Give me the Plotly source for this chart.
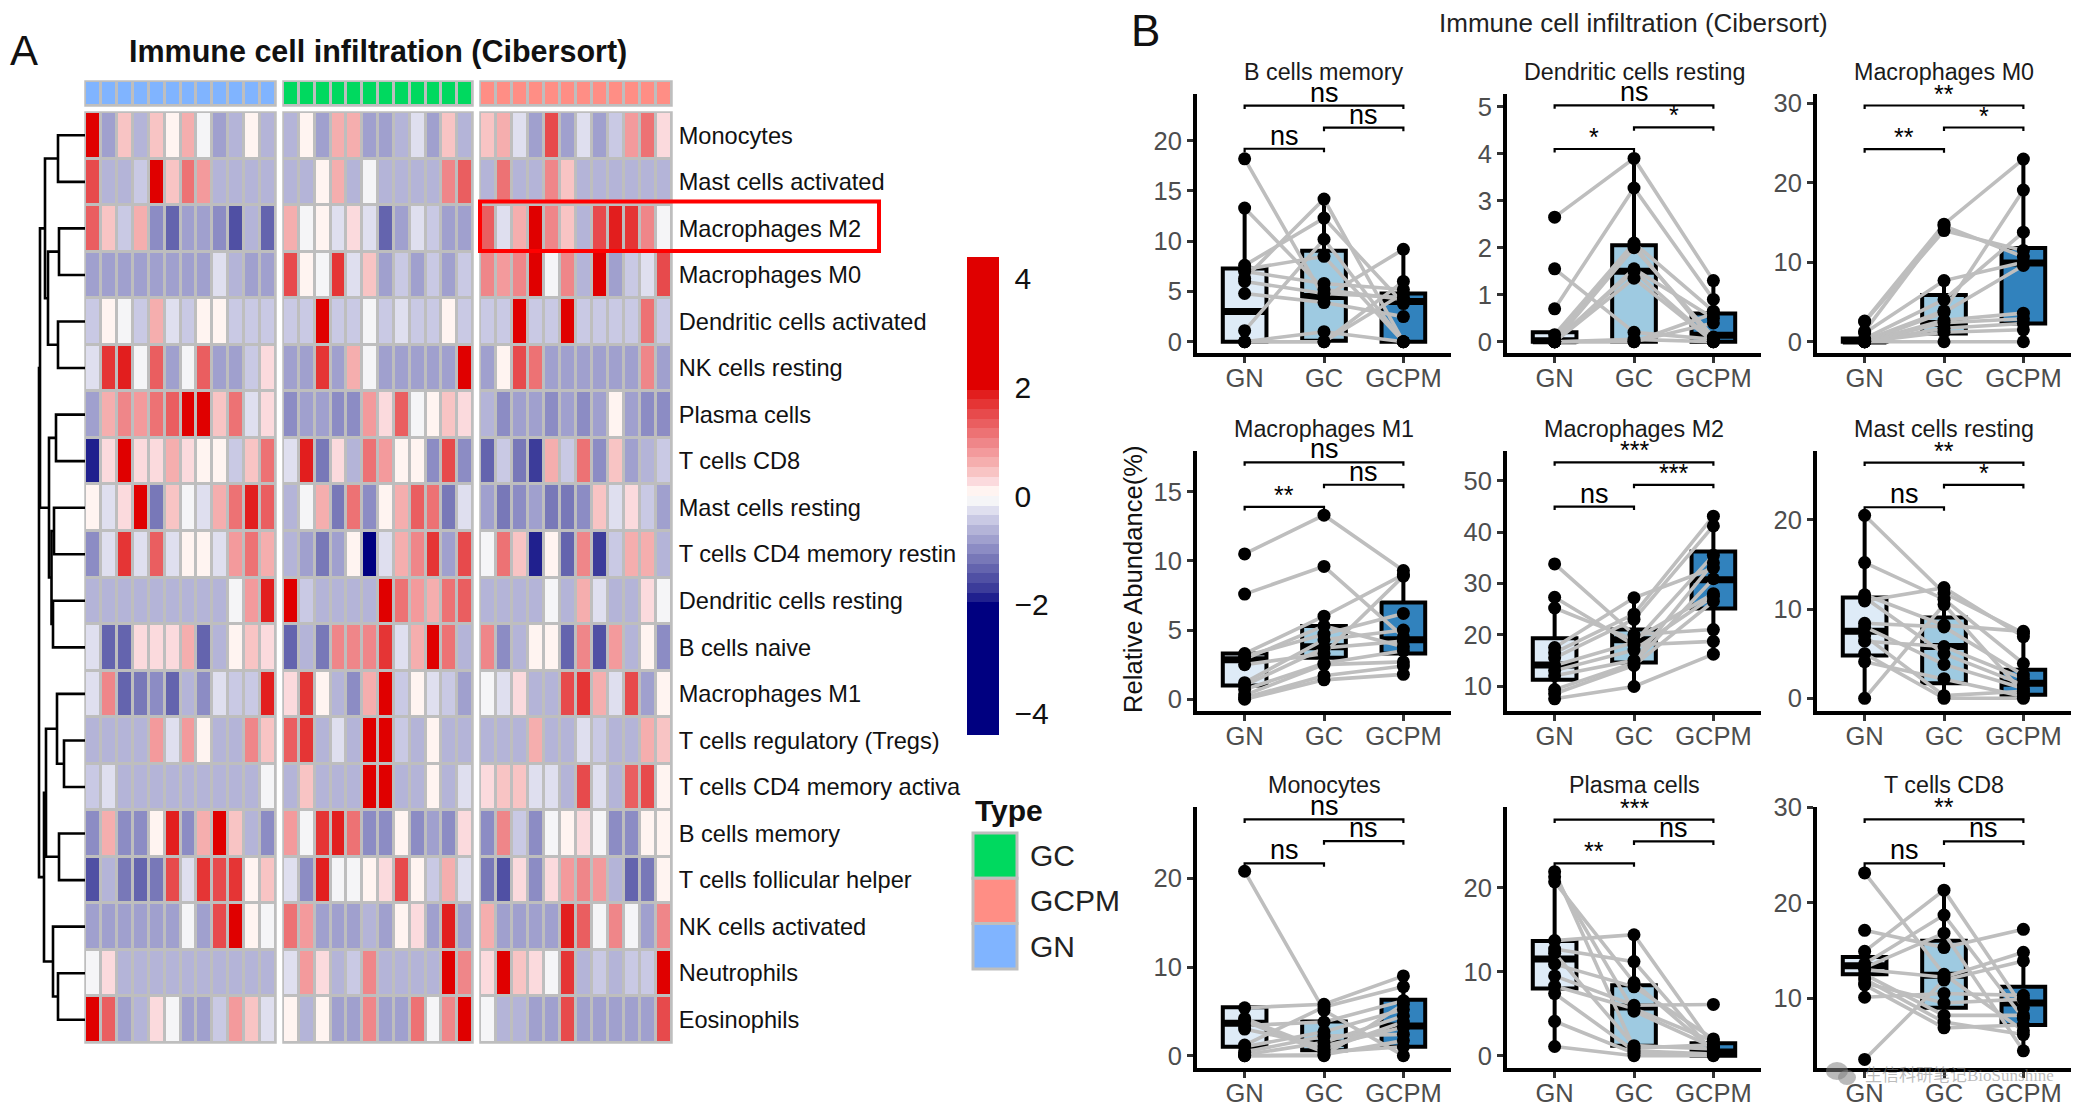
import plotly.graph_objects as go

W, H = 2074, 1109

# ---------------- heatmap data ----------------
row_labels = ["Monocytes", "Mast cells activated", "Macrophages M2", "Macrophages M0",
              "Dendritic cells activated", "NK cells resting", "Plasma cells", "T cells CD8",
              "Mast cells resting", "T cells CD4 memory restin", "Dendritic cells resting",
              "B cells naive", "Macrophages M1", "T cells regulatory (Tregs)",
              "T cells CD4 memory activa", "B cells memory", "T cells follicular helper",
              "NK cells activated", "Neutrophils", "Eosinophils"]

heat_GN = [
    [2.5,-0.65,0.4,-0.5,0.4,0.05,0.6,-0.02,-0.65,-0.5,0.05,-0.5],
    [1.5,-0.5,-0.5,-0.35,2.5,0.4,1.1,0.8,-0.5,-0.5,-0.5,-0.5],
    [1.3,0.4,-0.35,0.6,-0.8,-1.2,-0.65,-0.7,-0.85,-1.4,-0.5,-1.2],
    [-0.65,-0.7,-0.65,-0.7,-0.7,-0.7,-0.7,-0.7,-0.2,-0.5,-0.65,-0.7],
    [-0.35,0.05,-0.02,-0.35,0.6,-0.2,-0.35,0.05,0.05,-0.35,-0.35,-0.35],
    [-0.2,1.7,2.0,-0.02,1.3,-0.65,-0.02,1.3,-0.65,-0.65,-0.35,0.25],
    [-0.65,0.6,0.95,0.8,1.1,1.3,2.5,2.5,0.4,1.1,-0.2,0.25],
    [-1.8,0.25,2.5,0.25,0.25,0.6,0.25,0.05,0.05,-0.35,0.4,1.1],
    [0.05,-0.2,0.25,2.5,-1.0,0.4,-0.02,-0.2,0.6,1.1,2.0,1.3],
    [-0.8,-0.2,1.7,-0.2,1.3,-0.2,0.05,0.05,-0.2,0.8,1.1,0.6],
    [-0.5,-0.5,-0.5,-0.5,-0.5,-0.5,-0.5,-0.5,-0.5,-0.02,0.8,2.0],
    [-0.2,-1.2,-1.2,0.25,0.25,0.25,0.6,-1.2,-0.5,0.05,0.4,0.25],
    [-0.2,0.95,-1.2,-1.0,-0.85,-1.2,-0.5,-0.85,-0.2,-0.35,-0.35,2.0],
    [-0.5,-0.5,-0.5,-0.5,0.8,-0.2,0.8,0.05,-0.5,-0.5,0.95,0.4],
    [-0.35,-0.2,-0.5,-0.5,-0.5,-0.5,-0.5,-0.5,-0.5,-0.5,-0.5,-0.02],
    [-0.8,0.6,-0.8,-0.8,0.05,2.0,-0.85,0.6,2.5,0.4,-0.5,-0.85],
    [-1.4,-0.5,-1.0,-1.2,-1.0,1.5,-0.2,1.6,1.5,1.7,0.05,0.4],
    [-0.65,-0.65,-0.65,-0.65,-0.65,-0.65,-0.02,-0.65,1.5,2.5,0.05,-0.02],
    [-0.02,0.25,-0.5,-0.5,-0.5,-0.5,-0.5,-0.5,-0.5,-0.5,-0.5,-0.5],
    [2.5,1.3,-0.65,-0.5,0.25,-0.02,-0.65,-0.65,-0.35,0.8,0.4,-0.2],
]
heat_GC = [
    [-0.5,0.05,-0.65,0.6,0.6,-0.65,-0.65,-0.5,-0.2,-0.65,0.4,-0.5],
    [-0.5,-0.5,0.05,0.6,-0.5,-0.02,-0.5,-0.5,-0.5,-0.5,0.95,1.3],
    [0.6,-0.02,0.05,-0.2,0.25,-0.2,-1.2,-0.65,-0.2,-0.35,-0.65,-0.65],
    [1.5,0.05,-0.02,1.7,-0.2,0.4,-0.65,-0.35,-0.65,-0.35,-0.65,-0.35],
    [-0.35,-0.35,2.5,-0.35,-0.35,-0.02,-0.35,-0.2,-0.35,-0.35,0.05,-0.35],
    [-0.65,-0.65,1.7,-0.65,0.6,-0.02,-0.65,-0.65,-0.65,-0.65,-0.65,2.5],
    [-0.8,-0.65,-0.65,-0.8,-0.8,0.8,0.25,1.3,-0.02,0.05,0.4,0.25],
    [-0.2,2.0,-1.0,0.25,-0.5,1.1,0.8,0.05,0.05,-0.8,1.5,-0.8],
    [-0.5,-0.02,0.6,-1.0,1.1,-0.8,0.05,0.6,1.3,1.1,-1.0,-0.2],
    [-0.5,-0.65,-1.0,-0.65,0.05,-2.2,-0.2,0.6,0.95,1.7,-0.65,1.5],
    [2.5,-0.35,-0.5,-0.5,-0.5,-0.5,2.5,1.1,0.8,0.6,1.1,1.3],
    [-1.2,-0.5,-1.0,0.95,0.95,0.95,1.7,-0.2,0.6,2.5,1.1,-0.5],
    [0.25,1.7,0.05,-0.5,-0.8,0.6,2.5,-0.35,0.05,-0.2,-0.35,-0.65],
    [1.3,1.7,-0.5,-0.2,-0.5,2.5,2.5,-0.35,-0.5,0.05,-0.5,-0.5],
    [-0.5,0.4,-0.5,-0.5,-0.5,2.5,2.5,-0.5,-0.5,0.05,-0.5,-0.2],
    [0.8,-0.02,1.7,2.0,1.1,-0.85,-0.85,0.05,-0.85,-0.65,-0.85,0.25],
    [-0.2,-0.85,2.0,-0.02,-0.02,0.05,0.25,1.5,0.05,-0.35,0.6,-0.2],
    [1.1,0.8,-0.65,-0.65,-0.65,-0.5,-0.65,0.05,0.25,-0.65,2.0,-0.65],
    [-0.2,0.8,0.25,-0.5,-0.35,0.95,-0.5,-0.5,-0.5,-0.5,2.5,0.95],
    [0.05,-0.5,0.05,-0.65,-0.65,0.95,-0.65,-0.65,1.1,-0.02,0.95,2.5],
]
heat_GCPM = [
    [0.4,0.6,-0.2,-0.65,1.5,-0.7,-0.2,-0.65,-0.35,0.8,1.1,0.25],
    [-0.5,1.1,-0.5,-0.5,0.95,0.4,-0.5,-0.5,-0.5,-0.5,-0.5,-0.5],
    [1.3,-0.2,0.6,2.5,0.95,0.4,-0.5,1.5,2.0,1.7,0.95,-0.02],
    [0.95,0.8,0.95,2.5,-0.02,0.95,-0.5,2.5,-0.65,-0.35,-0.2,1.5],
    [-0.35,-0.35,2.5,-0.35,-0.35,2.5,-0.35,-0.35,-0.35,-0.35,1.1,-0.35],
    [-0.65,0.05,1.5,1.1,-0.65,-0.65,-0.65,-0.65,-0.65,-0.65,0.95,-0.65],
    [-0.5,-0.8,-0.65,-0.65,-0.8,-0.65,-0.8,-0.65,0.05,-0.65,-0.8,-0.8],
    [-1.2,-0.35,-1.0,-1.6,0.6,-0.35,1.1,-0.85,0.4,-0.65,-0.5,-0.35],
    [-0.65,-1.0,-0.8,-0.65,-1.0,-1.0,-0.8,0.4,-0.2,0.25,-0.35,-0.65],
    [-0.02,1.1,0.4,-1.8,0.05,-1.2,0.95,-1.6,-0.35,0.6,0.6,-0.5],
    [-0.5,-0.5,-0.5,-0.5,-0.02,-0.5,0.6,-0.2,-0.5,-0.5,0.25,-0.02],
    [0.95,-0.8,-0.5,0.05,0.05,-1.2,0.95,-1.3,0.8,-0.5,0.05,-0.85],
    [-0.02,-0.2,0.25,-0.5,-0.5,1.5,1.7,0.6,-0.2,1.5,-0.65,0.05],
    [-0.5,-0.5,-0.5,0.6,-0.5,-0.5,-0.2,-0.35,-0.5,-0.5,0.6,0.4],
    [0.25,0.4,0.4,-0.2,-0.2,-0.5,1.5,-0.2,-0.5,1.3,1.5,0.05],
    [-0.85,0.95,-0.35,-0.85,-0.02,0.05,0.25,-0.02,-0.85,-0.85,0.05,0.05],
    [-1.0,-1.4,0.25,-0.8,0.25,0.8,0.95,0.8,-0.5,-1.2,-1.0,0.05],
    [0.6,-0.65,-0.65,-0.7,-0.65,2.0,1.3,-0.02,0.95,-0.02,-0.65,0.95],
    [0.25,2.5,0.4,0.25,-0.02,1.7,-0.5,-0.35,-0.5,-0.35,-0.35,2.5],
    [-0.02,-0.5,-0.5,-0.65,-0.65,1.5,-0.65,-0.65,-0.65,-0.65,-0.65,1.5],
]

# dendrogram: (merge height, left, right); integers are row indices
tree = (46, (45, (40, (27, 0, 1), (37, (26, 2, 3), (27, 4, 5))),
             (36, (29, 6, 7), (33.5, (31, 8, 9), (32, 10, 11)))),
        (41, (39, (28, 12, (21, 13, 14)), (26, 15, 16)),
         (32, 17, (27, 18, 19))))

# ---------------- paired panels data ----------------
group_names = ["GN", "GC", "GCPM"]
group_fill = ["#DEEBF7", "#9ECAE1", "#3182BD"]

panel_titles = ["B cells memory", "Dendritic cells resting", "Macrophages M0",
                "Macrophages M1", "Macrophages M2", "Mast cells resting",
                "Monocytes", "Plasma cells", "T cells CD8"]

bcell_pts = [[18.2,13.3,7.6,7.2,7.0,6.3,6.0,4.8,1.1,0,0,0],
             [4.4,5.2,12.3,8.5,5.8,14.2,4.8,3.9,10.2,1.0,0,0],
             [9.2,4.2,3.8,0,5.2,0,4.4,2.5,0,0,6.0,4.8]]
dcrest_pts = [[2.65,1.55,0.7,0.15,0.05,0,0,0,0,0,0,0],
              [3.9,0.2,3.27,2.1,2.05,2.0,1.55,1.5,1.35,0.05,0,0],
              [1.3,0.05,0.9,0.65,0.0,0.1,0.5,0.0,0.0,0.0,0.6,0.4]]
m0_pts = [[2.6,2.5,1.3,1.1,0.4,0.2,0,0,0,0,0,0],
          [14.8,14.0,14.6,7.7,5.3,3.9,3.7,2.7,2.4,1.7,1.2,0],
          [23,11.5,10.7,10.0,13.8,19.1,9.6,3.6,2.9,2.3,1.5,0]]
m1_pts = [[10.5,7.6,3.3,3.1,2.9,2.5,1.2,1.0,0.7,0.3,0.1,0],
          [13.3,9.6,6.0,4.7,5.3,3.3,4.3,3.7,2.6,2.5,1.7,1.4],
          [9.3,4.5,9.0,6.2,3.8,8.9,5.0,4.2,3.5,2.7,2.4,1.8]]
m2_pts = [[33.8,27.3,25.2,17.5,16.5,15.5,14,13,12,9.3,8.5,7.5],
          [20,18,19,27.2,24,23,18.5,17,15,14.5,14,9.9],
          [21,18.7,28,33,43.1,41.2,35.5,27.5,34,30.9,26.5,16.2]]
mastr_pts = [[20.5,15.2,11.6,11.3,10.9,8.4,8.0,7.0,6.4,5.0,4.1,0],
             [11.8,11.1,8.2,5.0,12.4,8.0,3.8,0.3,5.8,0,2.2,10.5],
             [7.3,3.9,7.5,1.5,6.9,2.6,1.1,0.8,2.2,0,0.2,0.6]]
mono_pts = [[20.8,5.4,4.2,3.9,3.4,3.0,1.2,1.0,0.4,0.1,0,0],
            [5.1,5.8,0.7,0.4,3.8,1.1,5.5,2.7,2.2,1.5,0.1,0],
            [0,9.0,3.8,1.0,6.2,3.2,7.8,5.2,2.4,4.5,1.7,5.8]]
plasma_pts = [[21.9,21.3,20.7,13.7,12.7,12.2,10.9,9.5,8.3,7.4,4.1,1.1],
              [0.9,5.3,8.7,14.4,11.2,1.2,8.2,6.0,5.6,0.6,0.3,0],
              [1.3,1.0,0.6,1.1,0.4,0.8,2.0,6.1,1.7,0.2,0.1,0]]
cd8_pts = [[23.1,17.1,14.9,13.6,13.2,13.0,12.5,12.0,11.6,11.4,10.1,3.6],
           [12.5,15.3,21.3,18.7,16.8,12.2,8.2,7.5,9.5,6.9,10.5,11.9],
           [6.6,17.2,9.0,7.9,4.5,14.8,8.2,6.2,9.9,7.2,10.3,13.9]]
panel_pts = [bcell_pts, dcrest_pts, m0_pts, m1_pts, m2_pts, mastr_pts, mono_pts, plasma_pts, cd8_pts]

# box statistics per panel, per group: (lower fence, q1, median, q3, upper fence)
bcell_box = [(0,0,3.0,7.3,13.3),(0,0.1,4.5,9.05,14.2),(0,0,4.0,4.8,9.2)]
dcrest_box = [(0,0,0.02,0.2,0.2),(0,0,1.5,2.05,3.9),(0,0,0.14,0.6,1.3)]
m0_box = [(0,0,0.1,0.4,1.1),(0,1.05,2.3,5.9,7.7),(0,2.3,9.9,11.8,23)]
m1_box = [(0,1.0,2.85,3.3,3.3),(1.4,3.0,3.8,5.3,6.0),(1.8,3.3,4.3,7.0,9.3)]
m2_box = [(7.5,11.2,14.1,19.3,25.2),(9.9,14.6,19,21,27.2),(16.2,25.1,30.7,36.2,43.1)]
mastr_box = [(0,4.8,7.5,11.3,20.5),(0,1.7,5.8,9.05,12.4),(0,0.4,1.7,3.2,7.5)]
mono_box = [(0,1.0,3.65,5.45,5.45),(0,0.6,1.4,3.85,5.8),(0,1.0,3.35,6.3,9.0)]
plasma_box = [(1.1,8.0,11.5,13.65,21.9),(0,1.2,5.8,8.4,14.4),(0,0,0.45,1.5,2.0)]
cd8_box = [(10.1,12.5,13.4,14.3,14.9),(6.9,9.0,12.4,16.0,21.3),(4.5,7.2,9.5,11.2,13.9)]
panel_box = [bcell_box, dcrest_box, m0_box, m1_box, m2_box, mastr_box, mono_box, plasma_box, cd8_box]

# brackets per panel: y of (GN-GCPM, GC-GCPM, GN-GC) and their labels
bracket_y = [(23.5,21.3,19.2),(5.03,4.56,4.1),(29.75,26.98,24.25),
             (17.12,15.5,13.9),(53.6,49.2,44.97),(26.4,23.9,21.4),
             (26.65,24.2,21.7),(28.1,25.5,22.9),(28.7,26.4,24.1)]
bracket_txt = [("ns","ns","ns"),("ns","*","*"),("**","*","**"),
               ("ns","ns","**"),("***","***","ns"),("**","*","ns"),
               ("ns","ns","ns"),("***","ns","**"),("**","ns","ns")]
y_ticks = [[0,5,10,15,20],[0,1,2,3,4,5],[0,10,20,30],[0,5,10,15],[10,20,30,40,50],
           [0,10,20],[0,10,20],[0,10,20],[10,20,30]]
y_ranges = [(-1.12,24.65),(-0.24,5.27),(-1.42,31.2),(-0.85,17.94),(5.13,55.8),
            (-1.42,27.7),(-1.39,28.05),(-1.46,29.6),(2.7,30.0)]

# ---------------- colours ----------------
value_colors = [(-2.0,"#000080"),(-1.8,"#20208E"),(-1.6,"#3C3C9A"),(-1.4,"#5050A4"),(-1.2,"#6464AE"),
                (-1.0,"#7878B8"),(-0.8,"#8C8CC4"),(-0.65,"#A0A0CE"),(-0.5,"#B4B4D8"),(-0.35,"#C9C9E4"),
                (-0.2,"#DFDFEF"),(-0.02,"#F5F5F7"),(0.05,"#FFF4F1"),(0.25,"#FBDADD"),(0.4,"#F8C4C4"),
                (0.6,"#F5AEAE"),(0.8,"#F39A9C"),(0.95,"#EF8689"),(1.1,"#ED7274"),(1.3,"#EA5E60"),
                (1.5,"#E74A4C"),(1.7,"#E53535"),(2.0,"#E21E1E"),(2.5,"#E00000")]
ZR = 2.6
heat_scale = []
for i, (v, c) in enumerate(value_colors):
    lo = -ZR if i == 0 else (value_colors[i-1][0] + v) / 2
    hi = ZR if i == len(value_colors) - 1 else (value_colors[i+1][0] + v) / 2
    heat_scale += [[(lo + ZR) / (2 * ZR), c], [(hi + ZR) / (2 * ZR), c]]

bar_colors = ["#000080","#20208E","#3C3C9A","#5050A4","#6464AE","#7878B8","#8C8CC4","#A0A0CE","#B4B4D8",
              "#C9C9E4","#DFDFEF","#F5F5F7","#FFF4F1","#FBDADD","#F8C4C4","#F5AEAE","#F39A9C","#EF8689",
              "#ED7274","#EA5E60","#E74A4C","#E53535","#E21E1E","#E00000"]
CB = 4.4
band = 0.178
n = len(bar_colors)
bar_scale = []
for i, c in enumerate(bar_colors):
    lo = -CB if i == 0 else -band * (n / 2 - 1) + (i - 1) * band
    hi = CB if i == n - 1 else -band * (n / 2 - 1) + i * band
    bar_scale += [[(lo + CB) / (2 * CB), c], [(hi + CB) / (2 * CB), c]]

GREY = "#BEBEBE"
anno_colors = ["#80B4FF", "#00D95F", "#FF8E85"]
FONT = "Liberation Sans, Arial, sans-serif"

def fx(px): return px / W
def fy(py): return 1 - py / H

fig = go.Figure()
layout = {}
shapes = []
annots = []

def text(px, py, s, size, color="#111111", bold=False, xanchor="center", yanchor="middle", angle=0, family=FONT):
    annots.append(dict(x=fx(px), y=fy(py), xref="paper", yref="paper", text=f"<b>{s}</b>" if bold else s,
                       showarrow=False, xanchor=xanchor, yanchor=yanchor, textangle=angle,
                       font=dict(size=size, color=color, family=family)))

# ---------------- heat blocks ----------------
blocks = [(85, 276), (283, 473), (480, 672)]
heat_top, heat_bot = 112, 1043
ann_top, ann_bot = 81, 106

layout["yaxis"] = dict(domain=[fy(heat_bot), fy(heat_top)], range=[19.5, -0.5], anchor="x3", side="right",
                       tickmode="array", tickvals=list(range(20)), ticktext=row_labels, showgrid=False,
                       zeroline=False, showline=False, ticks="outside", ticklen=1, tickcolor="rgba(0,0,0,0)",
                       tickfont=dict(size=23.6, color="#111111", family=FONT))
layout["yaxis2"] = dict(domain=[fy(ann_bot), fy(ann_top)], range=[-0.5, 0.5], anchor="x", visible=False)

for i, ((x0, x1), mat, col) in enumerate(zip(blocks, [heat_GN, heat_GC, heat_GCPM], anno_colors)):
    ax = "xaxis" if i == 0 else f"xaxis{i+1}"
    ref = "x" if i == 0 else f"x{i+1}"
    layout[ax] = dict(domain=[fx(x0), fx(x1)], range=[-0.5, 11.5], anchor="y", visible=False)
    for yr in ("y", "y2"):
        shapes.append(dict(type="rect", xref=f"{ref} domain", yref=f"{yr} domain", x0=0, x1=1, y0=0, y1=1,
                           fillcolor=GREY, line=dict(color=GREY, width=1.5), layer="below"))
    fig.add_trace(go.Heatmap(z=mat, x=list(range(12)), y=list(range(20)), xaxis=ref, yaxis="y", zmin=-ZR, zmax=ZR,
                             colorscale=heat_scale, showscale=False, xgap=3, ygap=3, hoverinfo="skip"))
    fig.add_trace(go.Heatmap(z=[[1] * 12], x=list(range(12)), y=[0], xaxis=ref, yaxis="y2", zmin=0, zmax=2,
                             colorscale=[[0, col], [1, col]], showscale=False, xgap=3, ygap=3, hoverinfo="skip"))

# ---------------- dendrogram ----------------
dx, dy = [], []
def walk(node):
    if isinstance(node, int):
        return 0, node
    h, a, b = node
    ha, ya = walk(a)
    hb, yb = walk(b)
    dx.extend([ha, h, h, hb, None])
    dy.extend([ya, ya, yb, yb, None])
    return h, (ya + yb) / 2
walk(tree)
layout["xaxis4"] = dict(domain=[0, fx(85)], range=[85, 0], anchor="y", visible=False)
fig.add_trace(go.Scatter(x=dx, y=dy, xaxis="x4", yaxis="y", mode="lines", line=dict(color="black", width=2.6),
                         hoverinfo="skip", showlegend=False))

# colour bar (drawn by an invisible marker trace on the dendrogram axes)
fig.add_trace(go.Scatter(x=[0, 0], y=[0, 0], xaxis="x4", yaxis="y", mode="markers", hoverinfo="skip", showlegend=False,
                         marker=dict(size=1, opacity=0, color=[-CB, CB], cmin=-CB, cmax=CB, colorscale=bar_scale,
                                     showscale=True,
                                     colorbar=dict(x=fx(967), xanchor="left", y=fy(496), yanchor="middle",
                                                   lenmode="pixels", len=478, thicknessmode="pixels", thickness=32,
                                                   xpad=0, ypad=0, outlinewidth=0, ticks="outside", ticklen=10,
                                                   tickcolor="rgba(0,0,0,0)", tickmode="array",
                                                   tickvals=[-4, -2, 0, 2, 4],
                                                   tickfont=dict(size=30, color="#111111", family=FONT)))))

# ---------------- panels ----------------
col_x = [1197, 1507, 1817]
row_y = [(94, 353), (451, 711), (807, 1068)]
for p in range(9):
    r, c = divmod(p, 3)
    x0 = col_x[c]
    top, bot = row_y[r]
    xn, yn = 5 + p, 3 + p
    xr, yr = f"x{xn}", f"y{yn}"
    common = dict(showgrid=False, zeroline=False, showline=True, linecolor="black", linewidth=4,
                  ticks="outside", ticklen=6, tickwidth=3, tickcolor="#333333",
                  tickfont=dict(size=25.5, color="#4D4D4D", family=FONT))
    layout[f"xaxis{xn}"] = dict(domain=[fx(x0), fx(x0 + 254)], range=[0.4, 3.6], anchor=yr, tickmode="array",
                                tickvals=[1, 2, 3], ticktext=group_names, ticklabelstandoff=-7, **common)
    layout[f"yaxis{yn}"] = dict(domain=[fy(bot), fy(top)], range=list(y_ranges[p]), anchor=xr, tickmode="array",
                                tickvals=y_ticks[p], **common)
    pts = panel_pts[p]
    for g in range(3):
        lo, q1, med, q3, hi = panel_box[p][g]
        fig.add_trace(go.Box(x=[g + 1], q1=[q1], median=[med], q3=[q3], lowerfence=[lo], upperfence=[hi],
                             width=0.55, whiskerwidth=0, fillcolor=group_fill[g], boxpoints=False,
                             line=dict(color="black", width=4), xaxis=xr, yaxis=yr, showlegend=False,
                             hoverinfo="skip"))
        fig.add_trace(go.Scatter(x=[g + 1 - 0.275, g + 1 + 0.275], y=[med, med], mode="lines",
                                 line=dict(color="black", width=7), xaxis=xr, yaxis=yr, showlegend=False,
                                 hoverinfo="skip"))
    lx, ly = [], []
    for s in range(len(pts[0])):
        lx += [1, 2, 3, None]
        ly += [pts[0][s], pts[1][s], pts[2][s], None]
    fig.add_trace(go.Scatter(x=lx, y=ly, mode="lines", line=dict(color="#BEBEBE", width=3.6), xaxis=xr, yaxis=yr,
                             showlegend=False, hoverinfo="skip"))
    px_ = [g + 1 for g in range(3) for _ in pts[g]]
    py_ = [v for g in range(3) for v in pts[g]]
    fig.add_trace(go.Scatter(x=px_, y=py_, mode="markers", marker=dict(color="black", size=13), xaxis=xr, yaxis=yr,
                             showlegend=False, hoverinfo="skip"))
    # brackets
    tip = 3.5 * (y_ranges[p][1] - y_ranges[p][0]) / (bot - top)
    spans = [(1, 3), (2, 3), (1, 2)]
    bx, by = [], []
    for (a, b), yv, lab in zip(spans, bracket_y[p], bracket_txt[p]):
        bx += [a, a, b, b, None]
        by += [yv - tip, yv, yv, yv - tip, None]
        annots.append(dict(x=(a + b) / 2, y=yv, xref=xr, yref=yr, text=lab, showarrow=False, xanchor="center",
                           yanchor="bottom", yshift=-4, font=dict(size=27 if lab == "ns" else 25, color="black",
                                                                  family=FONT)))
    fig.add_trace(go.Scatter(x=bx, y=by, mode="lines", line=dict(color="black", width=2.2), xaxis=xr, yaxis=yr,
                             showlegend=False, hoverinfo="skip"))
    annots.append(dict(x=0.5, y=1, xref=f"{xr} domain", yref=f"{yr} domain", text=panel_titles[p], showarrow=False,
                       xanchor="center", yanchor="bottom", yshift=7,
                       font=dict(size=23.3, color="#1A1A1A", family=FONT)))

# ---------------- free texts ----------------
text(24, 51, "A", 42, "#111111")
text(1145, 31, "B", 44, "#111111")
text(378, 52, "Immune cell infiltration (Cibersort)", 30.5, "#111111", bold=True)
text(1633, 23, "Immune cell infiltration (Cibersort)", 26, "#222222")
text(1133, 580, "Relative Abundance(%)", 25.6, "#111111", angle=-90)

# legend
text(973, 810, "Type", 30, "#111111", bold=True, xanchor="left")
legend_labels = ["GC", "GCPM", "GN"]
legend_colors = ["#00D95F", "#FF8E85", "#80B4FF"]
for i, (lab, col) in enumerate(zip(legend_labels, legend_colors)):
    y0 = 833 + 45.3 * i
    shapes.append(dict(type="rect", xref="paper", yref="paper", x0=fx(973), x1=fx(1017), y0=fy(y0 + 45.3), y1=fy(y0),
                       fillcolor=col, line=dict(color=GREY, width=3)))
    text(1028, y0 + 22.6, lab, 30, "#222222", xanchor="left")

# red highlight box
shapes.append(dict(type="rect", xref="paper", yref="paper", x0=fx(480), x1=fx(879), y0=fy(251), y1=fy(201.5),
                   fillcolor="rgba(0,0,0,0)", line=dict(color="#FF0000", width=4)))

# watermark
wm = "rgba(130,130,130,0.55)"
shapes.append(dict(type="circle", xref="paper", yref="paper", x0=fx(1826), x1=fx(1848), y0=fy(1080), y1=fy(1062),
                   fillcolor=wm, line_width=0))
shapes.append(dict(type="circle", xref="paper", yref="paper", x0=fx(1838), x1=fx(1856), y0=fy(1085), y1=fy(1070),
                   fillcolor=wm, line_width=0))
text(1863, 1075, "生信科研笔记BioSunshine", 17, wm, xanchor="left",
     family="Liberation Serif, Noto Sans CJK SC, serif")

layout.update(width=W, height=H, margin=dict(l=0, r=0, t=0, b=0, autoexpand=False), autosize=False, paper_bgcolor="white",
              plot_bgcolor="rgba(0,0,0,0)", showlegend=False, shapes=shapes, annotations=annots,
              font=dict(family=FONT))
fig.update_layout(**layout)
fig.write_html("out.html", config={"displayModeBar": False},
               post_script="document.body.style.margin='0';document.body.style.overflow='hidden';")
